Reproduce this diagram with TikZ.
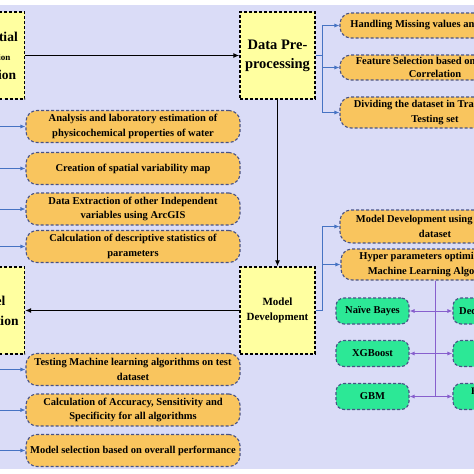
\documentclass[tikz,border=0pt]{standalone}
\usepackage{fontspec}
\setmainfont{Liberation Serif}
\usetikzlibrary{arrows.meta}
\definecolor{bgc}{RGB}{218,220,247}
\definecolor{yfill}{RGB}{255,255,160}
\definecolor{ofill}{RGB}{249,197,94}
\definecolor{gfill}{RGB}{44,232,150}
\definecolor{dashc}{RGB}{72,82,135}
\definecolor{bline}{RGB}{70,115,195}
\definecolor{pline}{RGB}{135,95,205}
\tikzset{
  ybox/.style={draw=black, densely dashed, line width=1.3pt, fill=yfill, align=center, minimum width=75pt, minimum height=87pt, inner sep=1pt},
  obox/.style={draw=dashc, densely dashed, line width=1.1pt, fill=ofill, rounded corners=11pt, align=center, font=\bfseries\fontsize{10.5}{14.5}\selectfont, minimum width=214pt, minimum height=32pt, inner sep=1pt},
  gbox/.style={draw=dashc, densely dashed, line width=1.1pt, fill=gfill, rounded corners=8pt, align=center, font=\bfseries\fontsize{10.5}{11}\selectfont, minimum width=73pt, minimum height=26pt, inner sep=1pt},
  mainarrow/.style={line width=1.2pt, -{Latex[length=6pt,width=5pt]}},
  barrow/.style={draw=bline, line width=0.7pt, -{Latex[length=5pt,width=4pt]}},
  bplain/.style={draw=bline, line width=0.7pt},
  parrow/.style={draw=pline, line width=0.8pt},
  ptips/.style={draw=pline, line width=0.8pt, {Latex[length=5pt,width=4pt]}-{Latex[length=5pt,width=4pt]}}
}
\begin{document}
\begin{tikzpicture}[x=1pt,y=-1pt]
\useasboundingbox (0,0) rectangle (474,474);
\clip (0,0) rectangle (474,474);
\fill[white] (0,0) rectangle (474,474);
\fill[bgc] (-10,5) rectangle (484,469);

% yellow boxes
\node[ybox, font=\bfseries\fontsize{13.5}{19}\selectfont] (sd) at (-13,55.5) {Geospatial\\{\fontsize{9}{10}\selectfont Information}\\Collection};
\node[ybox, font=\bfseries\fontsize{14.5}{19}\selectfont] (dp) at (277.5,55.5) {Data Pre-\\processing};
\node[ybox, font=\bfseries\fontsize{11}{15.5}\selectfont] (md) at (277.5,310.5) {Model\\Development};
\node[ybox, font=\bfseries\fontsize{13.5}{20}\selectfont] (me) at (-13,310.5) {Model\\Evaluation};

% left orange boxes
\node[obox] (o1) at (133,126.5) {Analysis and laboratory estimation of\\physicochemical properties of water};
\node[obox] (o2) at (133,168.5) {Creation of spatial variability map};
\node[obox] (o3) at (133,209) {Data Extraction of other Independent\\variables using ArcGIS};
\node[obox] (o4) at (133,246.5) {Calculation of descriptive statistics of\\parameters};
\node[obox] (o5) at (133,369.5) {Testing Machine learning algorithms on test\\dataset};
\node[obox] (o6) at (133,410) {Calculation of Accuracy, Sensitivity and\\Specificity for all algorithms};
\node[obox] (o7) at (133,450.5) {Model selection based on overall performance};

% right orange boxes
\node[obox, minimum width=190pt, minimum height=25pt] (r1) at (435,25.5) {Handling Missing values and Outliers};
\node[obox, minimum width=190pt, minimum height=25pt, font=\bfseries\fontsize{10.5}{12.5}\selectfont] (r2) at (435,67.5) {Feature Selection based on Pearson\\Correlation};
\node[obox, minimum width=190pt, minimum height=31pt] (r3) at (435,112.5) {Dividing the dataset in Training and\\Testing set};
\node[obox, minimum width=190pt, minimum height=33pt] (r4) at (435,226.5) {Model Development using Training\\dataset};
\node[obox, minimum width=190pt, minimum height=31pt] (r5) at (436,264.5) {Hyper parameters optimization of\\Machine Learning Algorithms};

% green boxes
\node[gbox] (nb) at (372.5,311) {Naïve Bayes};
\node[gbox] (xg) at (372.5,353.5) {XGBoost};
\node[gbox] (gb) at (372.5,396.5) {GBM};
\node[gbox] (dt) at (489.5,311) {Decision Tree};
\node[gbox] (sv) at (489.5,353.5) {SVM};
\node[gbox, font=\bfseries\fontsize{10}{11}\selectfont] (rf) at (489.5,396.5) {Random\\Forest};

% main arrows
\draw[mainarrow] (sd.east) -- (dp.west);
\draw[mainarrow] (dp.south) -- (md.north);
\draw[mainarrow] (md.west) -- (me.east);

% left blue connectors
\coordinate (lt) at (-8,0);
\foreach \n in {o1,o2,o3,o4,o5,o6,o7}{
  \draw[barrow] (\n.west -| lt) -- (\n.west);
}

% right blue connectors
\coordinate (rt) at (322,0);
\draw[bplain] (dp.east) -- (dp.east -| rt);
\draw[barrow] (dp.east -| rt) |- (r1.west);
\draw[barrow] (dp.east -| rt) |- (r2.west);
\draw[barrow] (dp.east -| rt) |- (r3.west);
\draw[bplain] (md.east) -- (md.east -| rt);
\draw[barrow] (md.east -| rt) |- (r4.west);
\draw[barrow] (md.east -| rt) |- (r5.west);

% purple connectors
\coordinate (pv) at (435,0);
\draw[parrow] (r5.south -| pv) -- (gb.east -| pv);
\draw[ptips] (nb.east) -- (dt.west);
\draw[ptips] (xg.east) -- (sv.west);
\draw[ptips] (gb.east) -- (rf.west);
\end{tikzpicture}
\end{document}
